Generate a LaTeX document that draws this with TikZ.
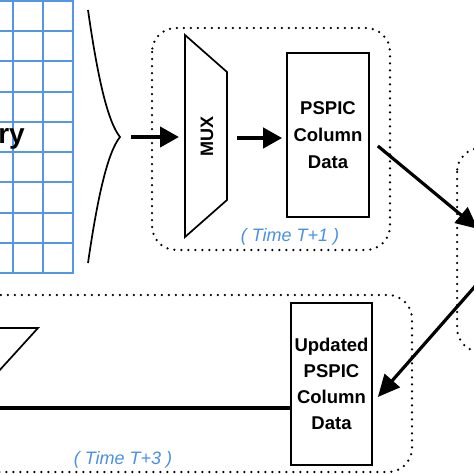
\documentclass[tikz,border=0pt]{standalone}
\usepackage{fontspec}
\setmainfont{Liberation Sans}
\usetikzlibrary{arrows.meta}
\definecolor{gridblue}{RGB}{85,150,230}
\definecolor{timeblue}{RGB}{74,144,226}
\begin{document}
\begin{tikzpicture}[x=1pt,y=-1pt,
  gridline/.style={draw=gridblue,line width=2pt},
  boxline/.style={draw=black,line width=1.7pt},
  dotbox/.style={draw=black,line width=2.5pt,dash pattern=on 0pt off 7pt,line cap=round,rounded corners=24pt},
  thickarrow/.style={draw=black,line width=4.2pt,-{Triangle[length=19pt,width=20pt]}},
  diagarrow/.style={draw=black,line width=3.2pt,-{Triangle[length=22pt,width=20pt]}},
  datbox/.style={boxline,minimum width=82pt,minimum height=164pt,align=center,inner sep=0pt,
     font=\bfseries\fontsize{18.5}{27}\selectfont},
  timelabel/.style={text=timeblue,font=\itshape\fontsize{18}{20}\selectfont,inner sep=0pt}]
\useasboundingbox (0,0) rectangle (474,474);
% memory grid
\foreach \x in {13,43,73} \draw[gridline] (\x,-2) -- (\x,274);
\foreach \k in {0,...,9} \draw[gridline] (-2,{0.8+30.25*\k}) -- (74,{0.8+30.25*\k});
\node[anchor=base east,inner sep=0pt,font=\bfseries\fontsize{28}{30}\selectfont] (mem) at (25,143) {ry};
% brace
\coordinate (btop) at (88,10);
\coordinate (btip) at (120,137);
\coordinate (bbot) at (88,263);
\draw[line width=1.7pt] (btop) .. controls (98,80) and (108,122) .. (btip)
   .. controls (108,152) and (98,194) .. (bbot);
% dotted group boxes
\draw[dotbox] (152,28) rectangle (390,250);
\draw[dotbox] (457,148) rectangle (520,352);
\draw[dotbox] (-40,295) rectangle (412,472);
% MUX
\draw[boxline] (185,35) -- (227,72) -- (227,200) -- (185,237) -- cycle;
\node[rotate=90,font=\bfseries\fontsize{18}{20}\selectfont] (mux) at (207,136) {MUX};
\coordinate (muxin) at (185,137);
\coordinate (muxout) at (227,138);
\coordinate (bin) at (131,137);
% PSPIC box
\node[datbox] (pspic) at (328,135) {PSPIC\\Column\\Data};
\node[timelabel] (t1) at (290,237) {( Time T+1 )};
% updated box
\node[datbox,minimum width=81pt,minimum height=162pt,font=\bfseries\fontsize{18.5}{26}\selectfont] (upd) at (331.5,384) {Updated\\PSPIC\\Column\\Data};
\node[timelabel] (t3) at (123,460) {( Time T+3 )};
% lower-left shape
\coordinate (pa) at (-2,328);
\coordinate (pb) at (38,328);
\coordinate (pc) at (-2,372);
\draw[boxline] (pa) -- (pb) -- (pc);
% arrows
\draw[thickarrow,shorten >=6pt] (bin) -- (muxin);
\draw[thickarrow] ([shift={(10,0)}]muxout) -- ([shift={(-4,3)}]pspic.west);
\coordinate (rin) at (478,229);
\coordinate (rout) at (478,283);
\draw[diagarrow] ([shift={(8,11)}]pspic.east) -- (rin);
\draw[diagarrow] (rout) -- ([shift={(5,13)}]upd.east);
\coordinate (lend) at (-2,408);
\draw[line width=3.4pt] ([shift={(0,24)}]upd.west) -- (lend);
\end{tikzpicture}
\end{document}
